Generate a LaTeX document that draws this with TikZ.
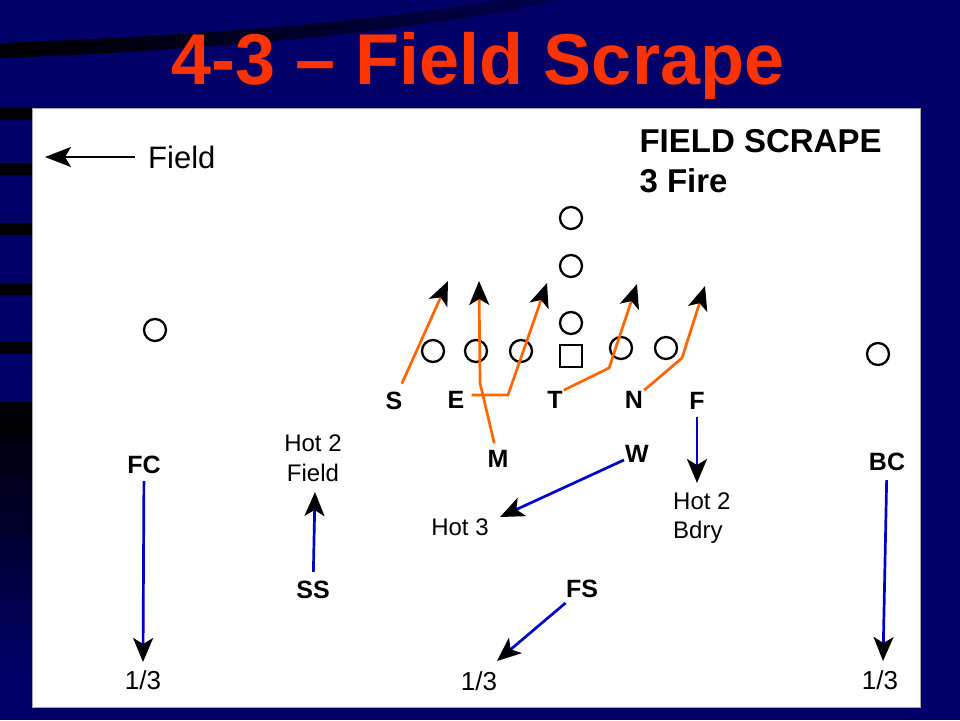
\documentclass[tikz,border=0pt]{standalone}
\usepackage{fontspec}
\setmainfont{Liberation Sans}
\usepackage{xcolor}
\usetikzlibrary{arrows.meta}
\definecolor{navybg}{RGB}{0,0,104}
\definecolor{titlered}{RGB}{255,51,0}
\definecolor{runorange}{RGB}{255,102,0}
\definecolor{dropblue}{RGB}{0,0,204}

\begin{document}
\begin{tikzpicture}[x=1pt, y=-1pt,
    player/.style={draw=black, line width=2.3pt, circle, minimum size=22pt, inner sep=0pt},
    center/.style={draw=black, line width=2.3pt, rectangle, minimum size=22pt, inner sep=0pt},
    def/.style={font=\bfseries\fontsize{25}{30}\selectfont, inner sep=1pt},
    hot/.style={font=\fontsize{24}{29.5}\selectfont, inner sep=1pt},
    third/.style={font=\fontsize{26}{30}\selectfont, inner sep=1pt},
    tip/.style={-{Stealth[length=24pt, width=20pt, inset=6pt, color=black]}},
    run/.style={tip, draw=runorange, line width=2.7pt},
    drop/.style={tip, draw=dropblue, line width=2.7pt}]
\useasboundingbox (0,0) rectangle (960,720);
% background
\fill[navybg] (0,0) rectangle (960,720);
\shade[left color=black, right color=navybg!75!black] (0,43) .. controls (200,36) and (380,20) .. (480,3) -- (500,0)
    -- (560,0) .. controls (430,30) and (220,50) .. (0,58) -- cycle;
\foreach \y in {108,163,223,283,342}
    \fill[black] (0,\y) rectangle (32,\y+12);
\foreach \i [evaluate=\i as \pct using int(5*\i)] in {0,...,19}
    \fill[navybg!\pct!black] (0,402+\i*13.25) rectangle (32,416+\i*13.25);
\filldraw[fill=white, draw=gray!70, line width=1pt] (32,108) rectangle (920,707);
\node[text=titlered, font=\bfseries\fontsize{72}{80}\selectfont] (title) at (478,66) {4-3 -- Field Scrape};

\node[font=\fontsize{31}{36}\selectfont, anchor=west, inner sep=2pt] (fieldlbl) at (146,157) {Field};
\coordinate (fieldTip) at (45,157);
\draw[-{Stealth[length=26pt, width=20pt, inset=6pt]}, line width=2pt, shorten <=11pt] (fieldlbl.west) -- (fieldTip);
\node[font=\bfseries\fontsize{33}{40}\selectfont, anchor=west, align=left] (call) at (636,161) {FIELD SCRAPE\\3 Fire};

% offense
\node[player] (lt) at (433,351) {};
\node[player] (lg) at (476,351) {};
\node[player] (lg2) at (521,351) {};
\node[center] (ctr) at (571,356) {};
\node[player] (rg) at (621,348) {};
\node[player] (rt) at (666,348) {};
\node[player] (qb) at (571,323) {};
\node[player] (fb) at (571,266) {};
\node[player] (tb) at (571,218) {};
\node[player] (wrl) at (155,330) {};
\node[player] (wrr) at (878,354) {};

% defense
\node[def] (S) at (394,401) {S};
\node[def] (E) at (456,400) {E};
\node[def] (T) at (555,400) {T};
\node[def] (N) at (634,400) {N};
\node[def] (F) at (697,401) {F};
\node[def] (M) at (498,459) {M};
\node[def] (W) at (637,454) {W};
\node[def] (FC) at (144,465) {FC};
\node[def] (SS) at (313,590) {SS};
\node[def] (FS) at (582,589) {FS};
\node[def] (BC) at (887,462) {BC};

\node[hot, align=center] (hotfield) at (313,458) {Hot 2\\Field};
\node[hot] (hot3) at (460,527) {Hot 3};
\node[hot, align=left, anchor=west] (hotbdry) at (672,518) {Hot 2\\Bdry};
\node[third] (thirdl) at (143,680) {1/3};
\node[third] (thirdm) at (479,681) {1/3};
\node[third] (thirdr) at (880,680) {1/3};

% rush
\coordinate (sTip) at (448,281);
\coordinate (mBend) at (480,383);
\coordinate (mTip) at (479,281);
\coordinate (eBend) at (508,395);
\coordinate (eTip) at (547,283);
\coordinate (tBend) at (609,368);
\coordinate (tTip) at (637,284);
\coordinate (nBend) at (682,358);
\coordinate (nTip) at (705,286);
\draw[run, shorten <=8pt] (S) -- (sTip);
\draw[run, shorten <=6pt] (M) -- (mBend) -- (mTip);
\draw[run] ([xshift=6pt]E.east |- eBend) -- (eBend) -- (eTip);
\draw[run] (T.north east) -- (tBend) -- (tTip);
\draw[run] (N.north east) -- (nBend) -- (nTip);

% coverage
\coordinate (fTip) at (697,483);
\coordinate (wTip) at (500,517);
\coordinate (fcTip) at (143,662);
\coordinate (ssTip) at (315,492);
\coordinate (fsTip) at (497,661);
\coordinate (bcTip) at (883,661);
\draw[drop, shorten <=6pt] (F) -- (fTip);
\draw[drop] (W) -- (wTip);
\draw[drop, shorten <=6pt] (FC) -- (fcTip);
\draw[drop, shorten <=8pt] (SS) -- (ssTip);
\draw[drop, shorten <=6pt] (FS) -- (fsTip);
\draw[drop, shorten <=8pt] (BC) -- (bcTip);
\end{tikzpicture}
\end{document}
